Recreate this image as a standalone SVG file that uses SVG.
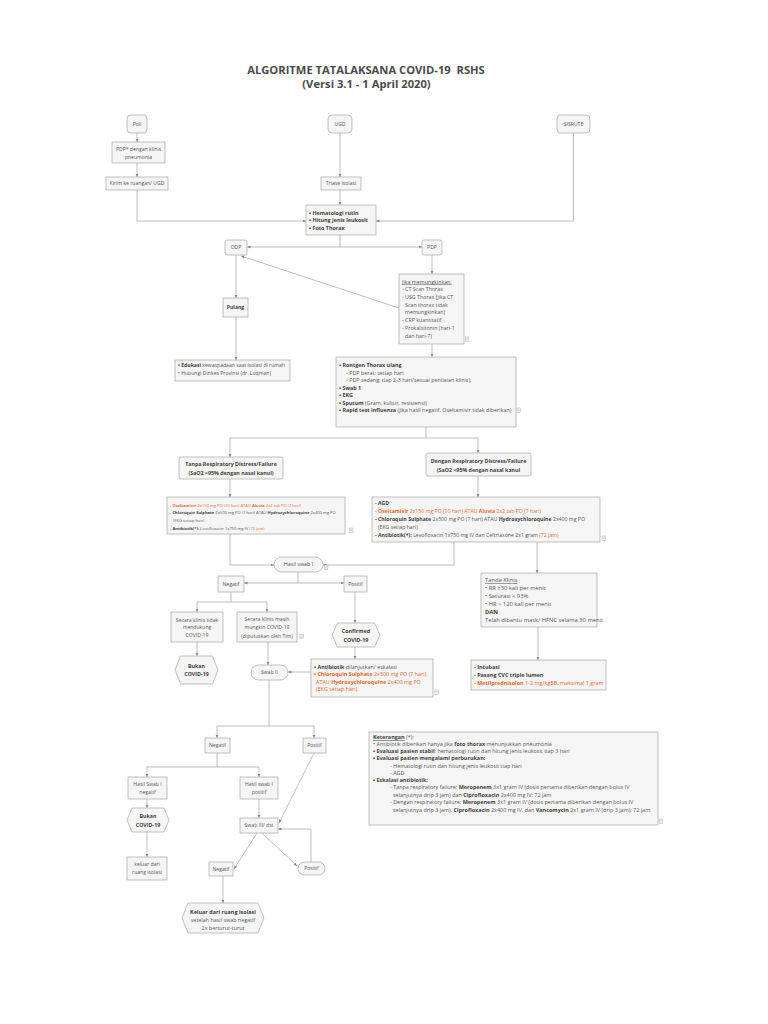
<svg xmlns="http://www.w3.org/2000/svg" width="768" height="1024" viewBox="0 0 768 1024">
<defs>
<style>
text{font-family:"Open Sans","Noto Sans","Liberation Sans",sans-serif;font-size:5.1px;fill:#555}
.c{text-anchor:middle}
.b{font-weight:700;fill:#3f3f3f}
.o{fill:#e8692e}
.u{text-decoration:underline}
.box{fill:#f5f5f5;stroke:#a6a6a6;stroke-width:0.7}
.ln{fill:none;stroke:#a0a0a0;stroke-width:0.7}
.title{font-size:11.2px;font-weight:700;fill:#4a4a4a}
.s42{font-size:4.1px}
.s52{font-size:5.2px}
.s53{font-size:5.3px}
.s54{font-size:5.4px}
.s55{font-size:5.45px}
.s58{font-size:5.8px}
</style>
<marker id="a" markerUnits="userSpaceOnUse" markerWidth="4" markerHeight="4" refX="3.5" refY="2" orient="auto"><path d="M0,0.4 L3.5,2 L0,3.6z" fill="#888"/></marker>
<g id="nt"><rect x="0" y="0" width="3.4" height="4.2" fill="#fff" stroke="#999" stroke-width="0.4"/><path d="M0.7,1.2H2.7M0.7,2.1H2.7M0.7,3H2.7" stroke="#999" stroke-width="0.35"/></g>
</defs>
<rect width="768" height="1024" fill="#fff"/>

<g id="title">
<text class="title c" x="366" y="73.5">ALGORITME TATALAKSANA COVID-19&#160; RSHS</text>
<text class="title c" x="366.5" y="88">(Versi 3.1 - 1 April 2020)</text>
</g>

<g id="connectors">
<path class="ln" d="M137,133V142" marker-end="url(#a)"/>
<path class="ln" d="M137,163V177" marker-end="url(#a)"/>
<path class="ln" d="M137,190V221H306" marker-end="url(#a)"/>
<path class="ln" d="M340,133V177" marker-end="url(#a)"/>
<path class="ln" d="M340,190V205" marker-end="url(#a)"/>
<path class="ln" d="M573.5,133V221H376" marker-end="url(#a)"/>
<path class="ln" d="M340,235V247H247" marker-end="url(#a)"/>
<path class="ln" d="M340,247H422" marker-end="url(#a)"/>
<path class="ln" d="M236,255V298" marker-end="url(#a)"/>
<path class="ln" d="M399,308L241,256" marker-end="url(#a)"/>
<path class="ln" d="M432,255V274" marker-end="url(#a)"/>
<path class="ln" d="M236,317V360" marker-end="url(#a)"/>
<path class="ln" d="M432,344V357" marker-end="url(#a)"/>
<path class="ln" d="M426,427V438H230V457" marker-end="url(#a)"/>
<path class="ln" d="M426,438H478V453" marker-end="url(#a)"/>
<path class="ln" d="M230,479V497" marker-end="url(#a)"/>
<path class="ln" d="M478,476V497" marker-end="url(#a)"/>
<path class="ln" d="M230,534V565H274" marker-end="url(#a)"/>
<path class="ln" d="M454,542V565H323" marker-end="url(#a)"/>
<path class="ln" d="M537,542V573" marker-end="url(#a)"/>
<path class="ln" d="M538,627V660" marker-end="url(#a)"/>
<path class="ln" d="M298,572V583H244" marker-end="url(#a)"/>
<path class="ln" d="M298,583H344" marker-end="url(#a)"/>
<path class="ln" d="M231,592V602H197V612" marker-end="url(#a)"/>
<path class="ln" d="M231,602H267V612" marker-end="url(#a)"/>
<path class="ln" d="M197,642V656" marker-end="url(#a)"/>
<path class="ln" d="M268,642V665" marker-end="url(#a)"/>
<path class="ln" d="M355,592V623" marker-end="url(#a)"/>
<path class="ln" d="M355,647V659" marker-end="url(#a)"/>
<path class="ln" d="M311,672H288" marker-end="url(#a)"/>
<path class="ln" d="M269,680V726H217V738" marker-end="url(#a)"/>
<path class="ln" d="M269,726H314V738" marker-end="url(#a)"/>
<path class="ln" d="M217,753V767H147V777" marker-end="url(#a)"/>
<path class="ln" d="M217,767H259V777" marker-end="url(#a)"/>
<path class="ln" d="M147,799V808" marker-end="url(#a)"/>
<path class="ln" d="M147,832V857" marker-end="url(#a)"/>
<path class="ln" d="M259,799V818" marker-end="url(#a)"/>
<path class="ln" d="M314,753L279,823" marker-end="url(#a)"/>
<path class="ln" d="M311,862V829H278" marker-end="url(#a)"/>
<path class="ln" d="M257,833L234,869" marker-end="url(#a)"/>
<path class="ln" d="M262,833L297,866" marker-end="url(#a)"/>
<path class="ln" d="M223,876V903" marker-end="url(#a)"/>
</g>

<g id="poli"><rect class="box" x="127" y="115" width="20" height="18" rx="4"/><text class="c" x="137" y="125.8">Poli</text></g>
<g id="ugd"><rect class="box" x="328" y="115" width="24" height="18" rx="4"/><text class="c" x="340" y="125.8">UGD</text></g>
<g id="sisrute"><rect class="box" x="557" y="115" width="33" height="18" rx="4"/><text class="c" x="573.5" y="125.8">SISRUTE</text></g>
<g id="pdp-klinis"><rect class="box" x="112" y="142" width="53" height="21"/><text class="c" x="138.5" y="151">PDP* dengan klinis</text><text class="c" x="138.5" y="158.5">pneumonia</text></g>
<g id="kirim"><rect class="box" x="106" y="177" width="62" height="13"/><text class="c" x="137" y="185.4">Kirim ke ruangan/ UGD</text></g>
<g id="triase"><rect class="box" x="321" y="177" width="40" height="13"/><text class="c" x="341" y="185.4">Triase Isolasi</text></g>
<g id="hemat"><rect class="box" x="306" y="205" width="70" height="30"/>
<text class="b s54" x="309" y="214.5">• Hematologi rutin</text>
<text class="b s54" x="309" y="222">• Hitung jenis leukosit</text>
<text class="b s54" x="309" y="229.5">• Foto Thorax</text></g>
<g id="odp"><rect class="box" x="225" y="240" width="22" height="15" rx="2"/><text class="c" x="236" y="249.3">ODP</text></g>
<g id="pdp"><rect class="box" x="422" y="240" width="20" height="15" rx="2"/><text class="c" x="432" y="249.3">PDP</text></g>
<g id="pulang"><rect class="box" x="223" y="298" width="25" height="19"/><text class="c b" x="235.5" y="309.3">Pulang</text></g>
<g id="jika"><rect class="box" x="399" y="274" width="65" height="70"/>
<text class="s53" x="402" y="283.5"><tspan class="u">Jika memungkinkan:</tspan></text>
<text class="s53" x="402" y="291">- CT Scan Thorax</text>
<text class="s53" x="402" y="299">- USG Thorax (jika CT</text>
<text class="s53" x="405" y="306.5">Scan thorax tidak</text>
<text class="s53" x="405" y="314">memungkinkan)</text>
<text class="s53" x="402" y="322">- CRP kuantitatif</text>
<text class="s53" x="402" y="330">- Prokalsitonin (hari-1</text>
<text class="s53" x="405" y="337.5">dan hari-7)</text>
<use href="#nt" x="465.5" y="337"/></g>
<g id="edukasi"><rect class="box" x="175" y="360" width="115" height="21"/>
<text x="178" y="367.2"><tspan class="b">• Edukasi</tspan> kewaspadaan saat isolasi di rumah</text>
<text x="178" y="374.7">• Hubungi Dinkes Provinsi (dr. Luqman)</text></g>
<g id="rontgen"><rect class="box" x="336" y="357" width="180" height="70"/>
<text class="s54" x="339" y="367"><tspan class="b">• Rontgen Thorax ulang</tspan></text>
<text class="s54" x="346" y="374.5">- PDP berat: setiap hari</text>
<text class="s54" x="346" y="382">- PDP sedang: tiap 2-3 hari/sesuai penilaian klinis),</text>
<text class="s54 b" x="339" y="389.5">• Swab 1</text>
<text class="s54 b" x="339" y="397">• EKG</text>
<text class="s54" x="339" y="404.5"><tspan class="b">• Sputum</tspan> (Gram, kultur, resistensi)</text>
<text class="s54" x="339" y="412"><tspan class="b">• Rapid test influenza</tspan> (jika hasil negatif, Oseltamivir tidak diberikan)</text>
<use href="#nt" x="517" y="408"/></g>
<g id="tanpa"><rect class="box" x="179" y="457" width="104" height="22" rx="2"/>
<text class="c b s53" x="231" y="465.7">Tanpa Respiratory Distress/Failure</text>
<text class="c b s53" x="231" y="474.7">(SaO2 &gt;95% dengan nasal kanul)</text></g>
<g id="dengan"><rect class="box" x="426" y="453" width="105" height="23" rx="2"/>
<text class="c b s53" x="478.5" y="462.7">Dengan Respiratory Distress/Failure</text>
<text class="c b s53" x="478.5" y="471.7">(SaO2 &lt;95% dengan nasal kanul</text></g>
<g id="obat-tanpa"><rect class="box" x="167" y="497" width="178" height="37"/>
<text class="s42" x="170" y="506.5">- <tspan class="b o">Oseltamivir</tspan><tspan class="o"> 2x150 mg PO (10 hari) ATAU </tspan><tspan class="b o">Aluvia</tspan><tspan class="o"> 2x2 tab PO (7 hari)</tspan></text>
<text class="s42" x="170" y="514"><tspan class="b">- Chloroquin Sulphate</tspan> 2x500 mg PO (7 hari) ATAU <tspan class="b">Hydroxychloroquine</tspan> 2x400 mg PO</text>
<text class="s42" x="173" y="521.5">(EKG setiap hari)</text>
<text class="s42" x="170" y="529.5"><tspan class="b">- Antibiotik(*):</tspan> Levofloxacin 1x750 mg IV <tspan class="o">(72 jam)</tspan></text>
<use href="#nt" x="349.5" y="528"/></g>
<g id="obat-dengan"><rect class="box" x="372" y="497" width="228" height="45"/>
<text class="s52 b" x="375" y="505.3">- AGD</text>
<text class="s52" x="375" y="513.3">- <tspan class="b o">Oseltamivir</tspan><tspan class="o"> 2x150 mg PO (10 hari) ATAU </tspan><tspan class="b o">Aluvia</tspan><tspan class="o"> 2x2 tab PO (7 hari)</tspan></text>
<text class="s52" x="375" y="521.3"><tspan class="b">- Chloroquin Sulphate</tspan> 2x500 mg PO (7 hari) ATAU <tspan class="b">Hydroxychloroquine</tspan> 2x400 mg PO</text>
<text class="s52" x="378" y="529.3">(EKG setiap hari)</text>
<text class="s52" x="375" y="537.3"><tspan class="b">- Antibiotik(*):</tspan> Levofloxacin 1x750 mg IV dan Ceftriaxone 2x1 gram <tspan class="o">(72 jam)</tspan></text>
<use href="#nt" x="602" y="536"/></g>
<g id="hasil-swab-1"><rect class="box" x="274" y="557" width="49" height="15" rx="7.5"/><text class="c s54" x="298.5" y="566.4">Hasil swab I</text><use href="#nt" x="324.5" y="565"/></g>
<g id="tanda"><rect class="box" x="481" y="573" width="116" height="54"/>
<text class="s58" x="485" y="582"><tspan class="u">Tanda Klinis</tspan></text>
<text class="s58" x="485" y="590">• RR ≥30 kali per menit</text>
<text class="s58" x="485" y="598">• Saturasi &lt; 93%</text>
<text class="s58" x="485" y="606">• HR &gt; 120 kali per menit</text>
<text class="s58 b" x="485" y="614">DAN</text>
<text class="s58" x="485" y="622">Telah dibantu mask/ HFNC selama 30 menit</text></g>
<g id="intubasi"><rect class="box" x="471" y="660" width="135" height="30"/>
<text class="b s55" x="474" y="669">- Intubasi</text>
<text class="b s55" x="474" y="677">- Pasang CVC triple lumen</text>
<text class="s55" x="474" y="685"><tspan class="b o">- Metilprednisolon</tspan><tspan class="o"> 1-2 mg/kgBB, maksimal 1 gram</tspan></text></g>
<g id="negatif-1"><rect class="box" x="218" y="576" width="26" height="16"/><text class="c" x="231" y="585.8">Negatif</text></g>
<g id="positif-1"><rect class="box" x="344" y="576" width="23" height="16"/><text class="c" x="355.5" y="585.8">Positif</text></g>
<g id="klinis-tidak"><rect class="box" x="171" y="612" width="52" height="30"/>
<text class="c" x="197" y="621.5">Secara klinis tidak</text>
<text class="c" x="197" y="629">mendukung</text>
<text class="c" x="197" y="637">COVID-19</text></g>
<g id="klinis-masih"><rect class="box" x="237" y="612" width="60" height="30"/>
<text class="c" x="267" y="621">Secara klinis masih</text>
<text class="c" x="267" y="629">mungkin COVID-19</text>
<text class="c" x="267" y="637.5">(diputuskan oleh Tim)</text>
<use href="#nt" x="300" y="634.5"/></g>
<g id="bukan-1"><polygon class="box" points="175,670 180.5,656 212.5,656 218,670 212.5,684 180.5,684"/>
<text class="c b s53" x="196.5" y="667.5">Bukan</text><text class="c b s53" x="196.5" y="675.7">COVID-19</text></g>
<g id="swab-2"><rect class="box" x="251" y="665" width="37" height="15" rx="7.5"/><text class="c" x="269.5" y="674.3">Swab II</text></g>
<g id="confirmed"><polygon class="box" points="332,635 337.5,623 374.5,623 380,635 374.5,647 337.5,647"/>
<text class="c b s54" x="356" y="633">Confirmed</text><text class="c b s54" x="356" y="641.5">COVID-19</text></g>
<g id="antibiotik"><rect class="box" x="311" y="659" width="122" height="38"/>
<text class="s54" x="314" y="668.5"><tspan class="b">• Antibiotik</tspan> dilanjutkan/ eskalasi</text>
<text class="s54" x="314" y="676"><tspan class="b o">• Chloroquin Sulphate</tspan><tspan class="o"> 2x500 mg PO (7 hari)</tspan></text>
<text class="s54" x="316" y="683.5"><tspan class="o">ATAU </tspan><tspan class="b o">Hydroxychloroquine</tspan><tspan class="o"> 2x400 mg PO</tspan></text>
<text class="s54" x="316" y="691"><tspan class="o">(EKG setiap hari)</tspan></text>
<use href="#nt" x="435" y="690"/></g>
<g id="negatif-2"><rect class="box" x="205" y="738" width="25" height="15"/><text class="c" x="217.5" y="747.3">Negatif</text></g>
<g id="positif-2"><rect class="box" x="303" y="738" width="23" height="15"/><text class="c" x="314.5" y="747.3">Positif</text></g>
<g id="hasil-neg"><rect class="box" x="128" y="777" width="39" height="22"/><text class="c" x="147.5" y="786">Hasil Swab I</text><text class="c" x="147.5" y="794">negatif</text></g>
<g id="hasil-pos"><rect class="box" x="240" y="777" width="38" height="22"/><text class="c" x="259" y="786">Hasil swab I</text><text class="c" x="259" y="794">positif</text></g>
<g id="bukan-2"><polygon class="box" points="127,820 132,808 164,808 169,820 164,832 132,832"/>
<text class="c b s53" x="148" y="818">Bukan</text><text class="c b s53" x="148" y="826.5">COVID-19</text></g>
<g id="keluar-1"><rect class="box" x="127" y="857" width="40" height="23"/><text class="c" x="147" y="866">keluar dari</text><text class="c" x="147" y="874">ruang isolasi</text></g>
<g id="swab-3"><rect class="box" x="240" y="818" width="38" height="15"/><text class="c" x="259" y="827.3">Swab III/ dst</text></g>
<g id="negatif-3"><rect class="box" x="209" y="862" width="24" height="14"/><text class="c" x="221" y="870.8">Negatif</text></g>
<g id="positif-3"><rect class="box" x="298" y="862" width="27" height="13" rx="6.5"/><text class="c" x="311.5" y="870.3">Positif</text></g>
<g id="keluar-2"><polygon class="box" points="182,918 188,903 258,903 264,918 258,933 188,933"/>
<text class="c b s55" x="223" y="914">Keluar dari ruang isolasi</text>
<text class="c s54" x="223" y="922">setelah hasil swab negatif</text>
<text class="c s54" x="223" y="930">2x berturut-turut</text></g>
<g id="keterangan"><rect class="box" x="369" y="732" width="289" height="93"/>
<text class="s55" x="373" y="739"><tspan class="b u">Keterangan</tspan> (*):</text>
<text class="s55" x="373" y="746.2">• Antibiotik diberikan hanya jika <tspan class="b">foto thorax</tspan> menunjukkan pneumonia</text>
<text class="s55" x="373" y="753.3"><tspan class="b">• Evaluasi pasien stabil</tspan>: hematologi rutin dan hitung jenis leukosit tiap 3 hari</text>
<text class="s55 b" x="373" y="760.4">• Evaluasi pasien mengalami perburukan:</text>
<text class="s55" x="390" y="767.5">- Hematologi rutin dan hitung jenis leukosit tiap hari</text>
<text class="s55" x="390" y="774.6">- AGD</text>
<text class="s55 b" x="373" y="781.7">• Eskalasi antibiotik:</text>
<text class="s55" x="390" y="789">- Tanpa respiratory failure: <tspan class="b">Meropenem</tspan> 3x1 gram IV (dosis pertama diberikan dengan bolus IV</text>
<text class="s55" x="393" y="796.5">selanjutnya drip 3 jam) dan <tspan class="b">Ciprofloxacin</tspan> 2x400 mg IV; 72 jam</text>
<text class="s55" x="390" y="804.3">- Dengan respiratory failure: <tspan class="b">Meropenem</tspan> 3x1 gram IV (dosis pertama diberikan dengan bolus IV</text>
<text class="s55" x="393" y="811.8">selanjutnya drip 3 jam), <tspan class="b">Ciprofloxacin</tspan> 2x400 mg IV, dan <tspan class="b">Vancomycin</tspan> 2x1 gram IV (drip 3 jam); 72 jam</text>
<use href="#nt" x="659.5" y="819"/></g>
</svg>
